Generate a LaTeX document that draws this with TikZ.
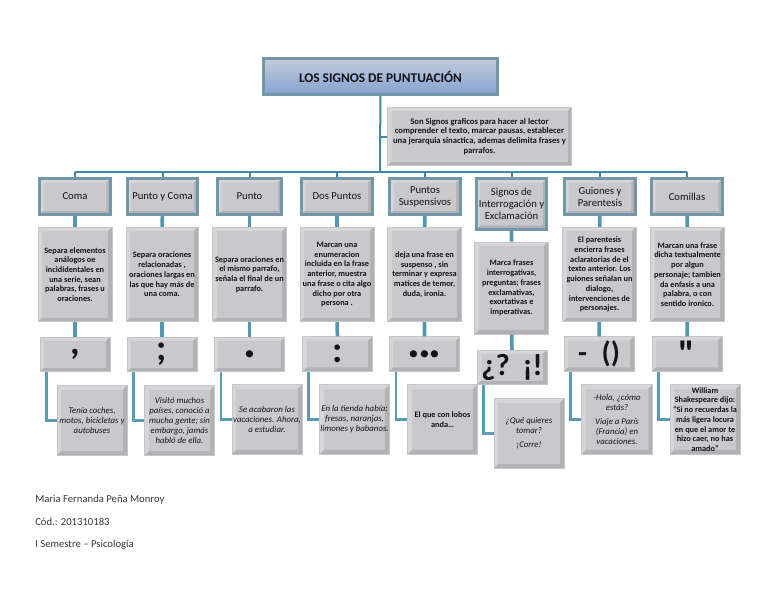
\documentclass[tikz,border=0pt]{standalone}
\usepackage{fontspec}
\setmainfont{Carlito}
\newfontfamily\straightfont{Carlito}
\definecolor{boxgray}{HTML}{C9C9CD}
\definecolor{bevellight}{HTML}{D6D6D8}
\definecolor{beveldark}{HTML}{B1B1B6}
\definecolor{rimgray}{HTML}{C6C6C9}
\definecolor{rimteal}{HTML}{7397A6}
\definecolor{linkteal}{HTML}{3F87A3}
\definecolor{elbowteal}{HTML}{5A9CB5}
\definecolor{titletop}{HTML}{C4CCDC}
\definecolor{titlebot}{HTML}{84A2CF}
\definecolor{inkgray}{HTML}{141418}
\tikzset{
  bevelbox/.style={rectangle, draw=rimgray, line width=0.6pt, fill=boxgray, inner sep=0pt, align=center, text=inkgray,
    path picture={
      \fill[bevellight] (path picture bounding box.north west) -- (path picture bounding box.south west)
        -- ++(3pt,3pt) |- ([shift={(-3pt,-3pt)}]path picture bounding box.north east)
        -- (path picture bounding box.north east) -- cycle;
      \fill[beveldark] (path picture bounding box.south east) -- (path picture bounding box.south west)
        -- ++(3pt,3pt) -| ([shift={(-3pt,-3pt)}]path picture bounding box.north east)
        -- (path picture bounding box.north east) -- cycle;
      \fill[boxgray] ([shift={(3pt,3pt)}]path picture bounding box.south west) rectangle ([shift={(-3pt,-3pt)}]path picture bounding box.north east);
    }},
  headbox/.style={bevelbox, draw=rimteal, line width=2.2pt, font=\fontsize{8}{9}\selectfont},
  descbox/.style={bevelbox, font=\bfseries\fontsize{6.2}{7.3}\selectfont},
  symbox/.style={bevelbox, font=\bfseries\fontsize{28}{28}\selectfont},
  exbox/.style={bevelbox, font=\itshape\fontsize{6.6}{7.4}\selectfont},
  link/.style={draw=linkteal, line width=1.5pt},
  thicklink/.style={draw=elbowteal!70!linkteal, line width=2.8pt},
  elbowlink/.style={draw=elbowteal, line width=1.9pt},
  credit/.style={inner sep=0pt, anchor=west, text=inkgray!85, font=\fontsize{8}{9}\selectfont},
}
\begin{document}
\begin{tikzpicture}[x=0.75pt,y=-0.75pt]
  \useasboundingbox (0,0) rectangle (768,594);
  \coordinate (buswest) at (75,172);
  \coordinate (buseast) at (687,172);
  \coordinate (busmid) at (380,172);
  % Title and definition
  \node[headbox, top color=titletop, bottom color=titlebot, path picture={}, minimum width=176pt, minimum height=27pt, font=\bfseries\fontsize{10}{11}\selectfont] (title) at (380.5,76.5) {LOS SIGNOS DE PUNTUACIÓN};
  \node[descbox, minimum width=138pt, minimum height=44pt, font=\bfseries\fontsize{6.45}{7.3}\selectfont] (intro) at (479.5,136.5) {Son Signos graficos para hacer al lector\\comprender el texto, marcar pausas, establecer\\una jerarquia sinactica, ademas delimita frases y\\parrafos.};
  % Headers
  \node[headbox, minimum width=53pt, minimum height=27pt] (coma) at (75,196.5) {Coma};
  \node[headbox, minimum width=53pt, minimum height=27pt] (puntocoma) at (162.5,196.5) {Punto y Coma};
  \node[headbox, minimum width=48pt, minimum height=27pt] (punto) at (249.5,196.5) {Punto};
  \node[headbox, minimum width=53pt, minimum height=27pt] (dospuntos) at (337,196.5) {Dos Puntos};
  \node[headbox, minimum width=53pt, minimum height=27pt] (suspensivos) at (425,196.5) {Puntos\\Suspensivos};
  \node[headbox, minimum width=53pt, minimum height=38pt] (signos) at (511.5,204) {Signos de\\Interrogación y\\Exclamación};
  \node[headbox, minimum width=53pt, minimum height=27pt] (guiones) at (600,196.5) {Guiones y\\Parentesis};
  \node[headbox, minimum width=53pt, minimum height=27pt] (comillas) at (687,196.5) {Comillas};
  % Explanations
  \node[descbox, minimum width=55.5pt, minimum height=71pt] (comadesc) at (75,274.5) {Separa elementos\\análogos oe\\incididentales en\\una serie, sean\\palabras, frases u\\oraciones.};
  \node[descbox, minimum width=54pt, minimum height=71pt] (puntocomadesc) at (162,274.5) {Separa oraciones\\relacionadas ,\\oraciones largas en\\las que hay más de\\una coma.};
  \node[descbox, minimum width=55pt, minimum height=71pt] (puntodesc) at (249.5,274.5) {Separa oraciones en\\el mismo parrafo,\\señala el final de un\\parrafo.};
  \node[descbox, minimum width=55.5pt, minimum height=71pt] (dospuntosdesc) at (337,274.5) {Marcan una\\enumeracion\\incluida en la frase\\anterior, muestra\\una frase o cita algo\\dicho por otra\\persona .};
  \node[descbox, minimum width=55pt, minimum height=71pt] (suspensivosdesc) at (424.5,274.5) {deja una frase en\\suspenso , sin\\terminar y expresa\\matices de temor,\\duda, ironia.};
  \node[descbox, minimum width=55pt, minimum height=69pt] (signosdesc) at (511.5,288) {Marca frases\\interrogativas,\\preguntas; frases\\exclamativas,\\exortativas e\\imperativas.};
  \node[descbox, minimum width=55pt, minimum height=71pt] (guionesdesc) at (599.5,274.5) {El parentesis\\encierra frases\\aclaratorias de el\\texto anterior. Los\\guiones señalan un\\dialogo,\\intervenciones de\\personajes.};
  \node[descbox, minimum width=55pt, minimum height=71pt] (comillasdesc) at (687.5,274.5) {Marcan una frase\\dicha textualmente\\por algun\\personaje; tambien\\da enfasis a una\\palabra, o con\\sentido ironico.};
  % Signs
  \node[symbox, minimum width=52.5pt, minimum height=26pt] (comasym) at (75,354.5) {,};
  \node[symbox, minimum width=52.5pt, minimum height=26pt] (puntocomasym) at (162,354.5) {;};
  \node[symbox, minimum width=53pt, minimum height=26pt, font=\bfseries\fontsize{36}{36}\selectfont] (puntosym) at (249.5,354.5) {.};
  \node[symbox, minimum width=52pt, minimum height=26pt] (dospuntossym) at (337.5,354) {:};
  \node[symbox, minimum width=53pt, minimum height=26pt, font=\bfseries\fontsize{36}{36}\selectfont] (suspensivossym) at (424.5,354) {.\kern-1.6pt.\kern-1.6pt.};
  \node[symbox, minimum width=52.5pt, minimum height=26pt, font=\bfseries\fontsize{23}{23}\selectfont] (signossym) at (512,367.5) {¿?\hspace{0.42em}¡!};
  \node[symbox, minimum width=52.5pt, minimum height=26pt, font=\bfseries\fontsize{22}{22}\selectfont] (guionessym) at (599,354) {-\,\,\,()};
  \node[symbox, minimum width=52.5pt, minimum height=26pt] (comillassym) at (687,354) {\straightfont\bfseries "};
  % Examples
  \node[exbox, minimum width=52.5pt, minimum height=52pt] (comaex) at (92,420.5) {Tenía coches,\\motos, bicicletas y\\autobuses};
  \node[exbox, minimum width=52pt, minimum height=52pt] (puntocomaex) at (179.5,420.5) {Visitó muchos\\países, conoció a\\mucha gente; sin\\embargo, jamás\\habló de ella.};
  \node[exbox, minimum width=52.5pt, minimum height=52pt] (puntoex) at (267,419.5) {Se acabaron las\\vacaciones. Ahora,\\a estudiar.};
  \node[exbox, minimum width=52pt, minimum height=52pt] (dospuntosex) at (354.5,419.5) {En la tienda había:\\fresas, naranjas,\\limones y babanos.};
  \node[descbox, minimum width=52pt, minimum height=52pt] (suspensivosex) at (442.5,419.5) {El que con lobos\\anda…};
  \node[exbox, minimum width=52.5pt, minimum height=52pt] (signosex) at (529,433.5) {¿Qué quieres\\tomar?\\[3pt]¡Corre!};
  \node[exbox, minimum width=53pt, minimum height=52pt] (guionesex) at (617,419.5) {-Hola, ¿cómo\\estás?\\[3pt]Viaje a París\\(Francia) en\\vacaciones.};
  \node[descbox, minimum width=52.5pt, minimum height=52pt] (comillasex) at (705,419.5) {William\\Shakespeare dijo:\\“Si no recuerdas la\\más ligera locura\\en que el amor te\\hizo caer, no has\\amado”};
  % Student data
  \node[credit] (nombre) at (35,500) {Maria Fernanda Peña Monroy};
  \node[credit] (codigo) at (35,522) {Cód.: 201310183};
  \node[credit] (semestre) at (35,545) {I Semestre – Psicología};
  % Draw the bus and the stubs
  \draw[link] (title) -- (busmid);
  \draw[link] (intro.west |- intro) -- (intro -| title);
  \draw[link] (buswest) -- (buseast);
  \draw[link] (coma.north) -- (coma |- buswest);
  \draw[link] (puntocoma.north) -- (puntocoma |- buswest);
  \draw[link] (punto.north) -- (punto |- buswest);
  \draw[link] (dospuntos.north) -- (dospuntos |- buswest);
  \draw[link] (suspensivos.north) -- (suspensivos |- buswest);
  \draw[link] (signos.north) -- (signos |- buswest);
  \draw[link] (guiones.north) -- (guiones |- buswest);
  \draw[link] (comillas.north) -- (comillas |- buswest);
  % Draw header to explanation to sign
  \draw[thicklink] (coma) -- (comadesc) (comadesc) -- (comasym);
  \draw[thicklink] (puntocoma) -- (puntocomadesc) (puntocomadesc) -- (puntocomasym);
  \draw[thicklink] (punto) -- (puntodesc) (puntodesc) -- (puntosym);
  \draw[thicklink] (dospuntos) -- (dospuntosdesc) (dospuntosdesc) -- (dospuntossym);
  \draw[thicklink] (suspensivos) -- (suspensivosdesc) (suspensivosdesc) -- (suspensivossym);
  \draw[thicklink] (signos) -- (signosdesc) (signosdesc) -- (signossym);
  \draw[thicklink] (guiones) -- (guionesdesc) (guionesdesc) -- (guionessym);
  \draw[thicklink] (comillas) -- (comillasdesc) (comillasdesc) -- (comillassym);
  % Draw sign to example
  \draw[elbowlink] ([xshift=5.25pt]comasym.south west) |- (comaex.west);
  \draw[elbowlink] ([xshift=5.25pt]puntocomasym.south west) |- (puntocomaex.west);
  \draw[elbowlink] ([xshift=5.25pt]puntosym.south west) |- (puntoex.west);
  \draw[elbowlink] ([xshift=4.5pt]dospuntossym.south west) |- (dospuntosex.west);
  \draw[elbowlink] ([xshift=5.25pt]suspensivossym.south west) |- (suspensivosex.west);
  \draw[elbowlink] ([xshift=5.25pt]signossym.south west) |- (signosex.west);
  \draw[elbowlink] ([xshift=5.25pt]guionessym.south west) |- (guionesex.west);
  \draw[elbowlink] ([xshift=5.25pt]comillassym.south west) |- (comillasex.west);
\end{tikzpicture}
\end{document}
